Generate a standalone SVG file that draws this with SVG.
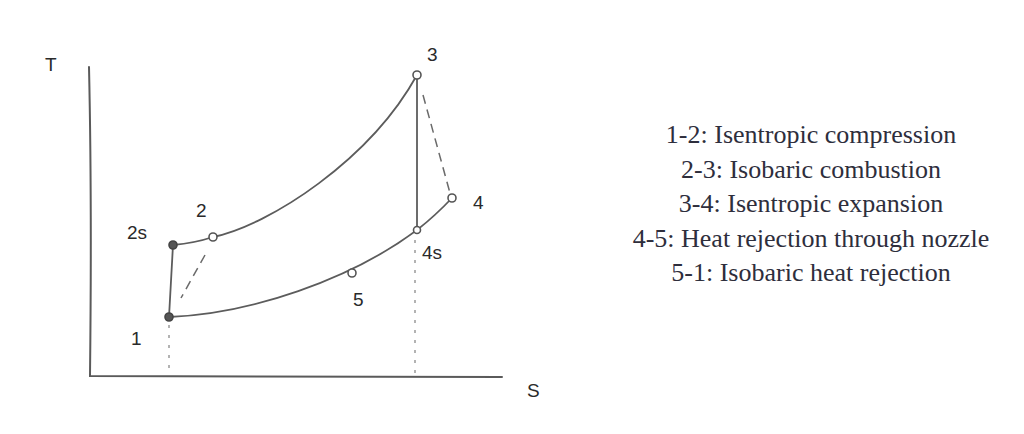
<svg xmlns="http://www.w3.org/2000/svg" width="1024" height="434" viewBox="0 0 1024 434">
<style>
.ax{fill:none;stroke:#5a5a5a;stroke-width:2;stroke-linecap:round}
.cv{fill:none;stroke:#5c5c5c;stroke-width:1.8;stroke-linecap:round}
.dash{fill:none;stroke:#6a6a6a;stroke-width:1.5;stroke-dasharray:9 6}
.dot{fill:none;stroke:#9a9a9a;stroke-width:1.5;stroke-dasharray:3 7}
.pt{fill:#fff;stroke:#555;stroke-width:1.6}
.ptf{fill:#555;stroke:#444;stroke-width:1.6}
.lb{font-family:"Liberation Sans",Arial,sans-serif;font-size:19px;fill:#2a2a2a}
.lg{font-family:"Liberation Serif","Times New Roman",serif;font-size:26px;fill:#2e2e3c;text-anchor:middle}
</style>
<rect width="1024" height="434" fill="#fff"/>
<g id="axes">
<path class="ax" d="M89,67 Q92,200 90,376 L502,377"/>
<text class="lb" x="45" y="71" font-size="21">T</text>
<text class="lb" x="527" y="397" font-size="21">S</text>
</g>
<g id="connectors">
<path class="cv" d="M173,245 Q195,243 213,237 C270,225 370,160 417,75"/>
<path class="cv" d="M169,317 C250,314 350,280 417,230 Q435,216 452,198"/>
<path class="cv" d="M173,245 L169,317" stroke-width="2.4"/>
<path class="cv" d="M417,75 L417,230"/>
<path class="dash" d="M205,255 L181,298"/>
<path class="dash" d="M423,95 L450,193"/>
<path class="dot" d="M169,325 L169,368"/>
<path class="dot" d="M415,240 L415,373"/>
</g>
<g id="node-1"><circle class="ptf" cx="169" cy="317" r="4"/><text class="lb" x="131" y="345">1</text></g>
<g id="node-2s"><circle class="ptf" cx="173" cy="245" r="4"/><text class="lb" x="127" y="239">2s</text></g>
<g id="node-2"><circle class="pt" cx="213" cy="237" r="4"/><text class="lb" x="196" y="217">2</text></g>
<g id="node-3"><circle class="pt" cx="417" cy="75" r="4"/><text class="lb" x="427" y="61">3</text></g>
<g id="node-4"><circle class="pt" cx="452" cy="198" r="4"/><text class="lb" x="473" y="209">4</text></g>
<g id="node-4s"><circle class="pt" cx="417" cy="230" r="3.5"/><text class="lb" x="422" y="259">4s</text></g>
<g id="node-5"><circle class="pt" cx="352" cy="273" r="4"/><text class="lb" x="353" y="306">5</text></g>
<g id="legend">
<text class="lg" x="811" y="143">1-2: Isentropic compression</text>
<text class="lg" x="811" y="177.5">2-3: Isobaric combustion</text>
<text class="lg" x="811" y="212">3-4: Isentropic expansion</text>
<text class="lg" x="811" y="246.5">4-5: Heat rejection through nozzle</text>
<text class="lg" x="811" y="281">5-1: Isobaric heat rejection</text>
</g>
</svg>
